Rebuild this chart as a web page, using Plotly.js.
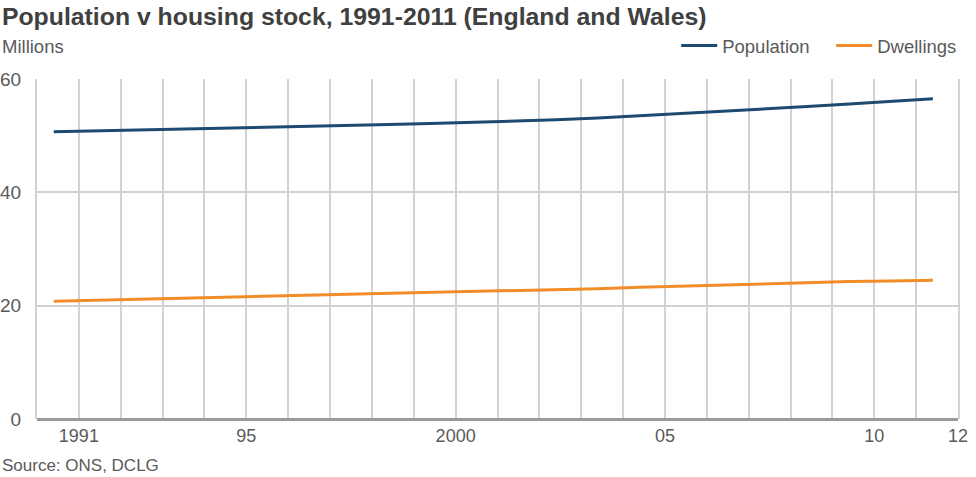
<!DOCTYPE html>
<html>
<head>
<meta charset="utf-8">
<script src="https://cdn.plot.ly/plotly-3.0.1.min.js"></script>
<style>
  html, body { margin: 0; padding: 0; background: #fff; }
  #chart { width: 976px; height: 477px; }
</style>
</head>
<body>
<div id="chart"></div>
<script>
  // mid-year points (roughly May each year)
  const years = [1990.4, 1991.4, 1992.4, 1993.4, 1994.4, 1995.4, 1996.4, 1997.4, 1998.4, 1999.4, 2000.4,
    2001.4, 2002.4, 2003.4, 2004.4, 2005.4, 2006.4, 2007.4, 2008.4, 2009.4, 2010.4, 2011.4];
  const population = [50.7, 50.85, 50.95, 51.1, 51.25, 51.45, 51.6, 51.8, 51.95, 52.15, 52.35,
    52.55, 52.8, 53.1, 53.5, 53.9, 54.25, 54.7, 55.15, 55.6, 56.05, 56.5];
  const dwellings = [20.8, 20.95, 21.1, 21.3, 21.5, 21.65, 21.85, 22.0, 22.15, 22.3, 22.45,
    22.6, 22.8, 23.0, 23.25, 23.45, 23.7, 23.9, 24.1, 24.25, 24.35, 24.5];

  const gridYears = [1990, 1991, 1992, 1993, 1994, 1995, 1996, 1997, 1998, 1999, 2000, 2001,
    2002, 2003, 2004, 2005, 2006, 2007, 2008, 2009, 2010, 2011, 2012];
  const labelledYears = { 1991: "1991", 1995: "95", 2000: "2000", 2005: "05", 2010: "10", 2012: "12" };
  const yTicks = [0, 20, 40, 60];

  const FONT = "Liberation Sans, Arial, Helvetica, sans-serif";
  const GREY = "#5a5a5a";
  const GRID = "#d2d2d2";

  const traces = [
    {
      x: years, y: population, name: "Population", type: "scatter", mode: "lines",
      line: { color: "#1c4a70", width: 3 }, hoverinfo: "skip",
    },
    {
      x: years, y: dwellings, name: "Dwellings", type: "scatter", mode: "lines",
      line: { color: "#f28c28", width: 3 }, hoverinfo: "skip",
    },
  ];

  const layout = {
    width: 976,
    height: 477,
    paper_bgcolor: "#fff",
    plot_bgcolor: "#fff",
    // keep the plot box fixed even though the legend entries are padded wide
    margin: { t: 79, r: 18, b: 58, l: 37, autoexpand: false },
    font: { family: FONT, color: GREY, size: 17 },
    title: {
      text: "<b>Population v housing stock, 1991-2011 (England and Wales)</b>",
      font: { family: FONT, size: 24.8, color: "#404040" },
      xref: "container", x: 0.002, xanchor: "left",
      yref: "container", y: 0.966, yanchor: "middle",
    },
    showlegend: true,
    legend: {
      orientation: "h",
      x: 0.694, xanchor: "left",
      y: 1.097, yanchor: "middle",
      font: { family: FONT, size: 18.5, color: GREY },
      bgcolor: "rgba(0,0,0,0)",
      itemwidth: 36,
      entrywidth: 104,
      entrywidthmode: "pixels",
    },
    xaxis: {
      range: [1990, 2012],
      tickmode: "array",
      tickvals: gridYears,
      ticktext: gridYears.map((yr) => labelledYears[yr] || ""),
      showgrid: true,
      gridcolor: GRID,
      gridwidth: 2,
      showline: false,
      zeroline: false,
      ticks: "",
      ticklabelstandoff: 4,
      tickfont: { family: FONT, size: 18, color: GREY },
      fixedrange: true,
    },
    yaxis: {
      range: [0, 60],
      tickmode: "array",
      tickvals: yTicks,
      ticktext: yTicks.map(String),
      showgrid: true,
      gridcolor: GRID,
      gridwidth: 2,
      showline: true,
      linecolor: GRID,
      linewidth: 2,
      mirror: true,
      zeroline: true,
      zerolinecolor: "#9a9a9a",
      zerolinewidth: 3,
      ticks: "",
      ticklabelstandoff: 10,
      tickfont: { family: FONT, size: 19, color: GREY },
      fixedrange: true,
    },
    annotations: [
      {
        text: "Millions", xref: "paper", yref: "paper", x: -0.04, y: 1.097,
        xanchor: "left", yanchor: "middle", showarrow: false,
        font: { family: FONT, size: 18.5, color: GREY },
      },
      {
        text: "Source: ONS, DCLG", xref: "paper", yref: "paper", x: -0.04, y: -0.137,
        xanchor: "left", yanchor: "middle", showarrow: false,
        font: { family: FONT, size: 17, color: GREY },
      },
    ],
  };

  Plotly.newPlot("chart", traces, layout, { displayModeBar: false, staticPlot: true });
</script>
</body>
</html>
